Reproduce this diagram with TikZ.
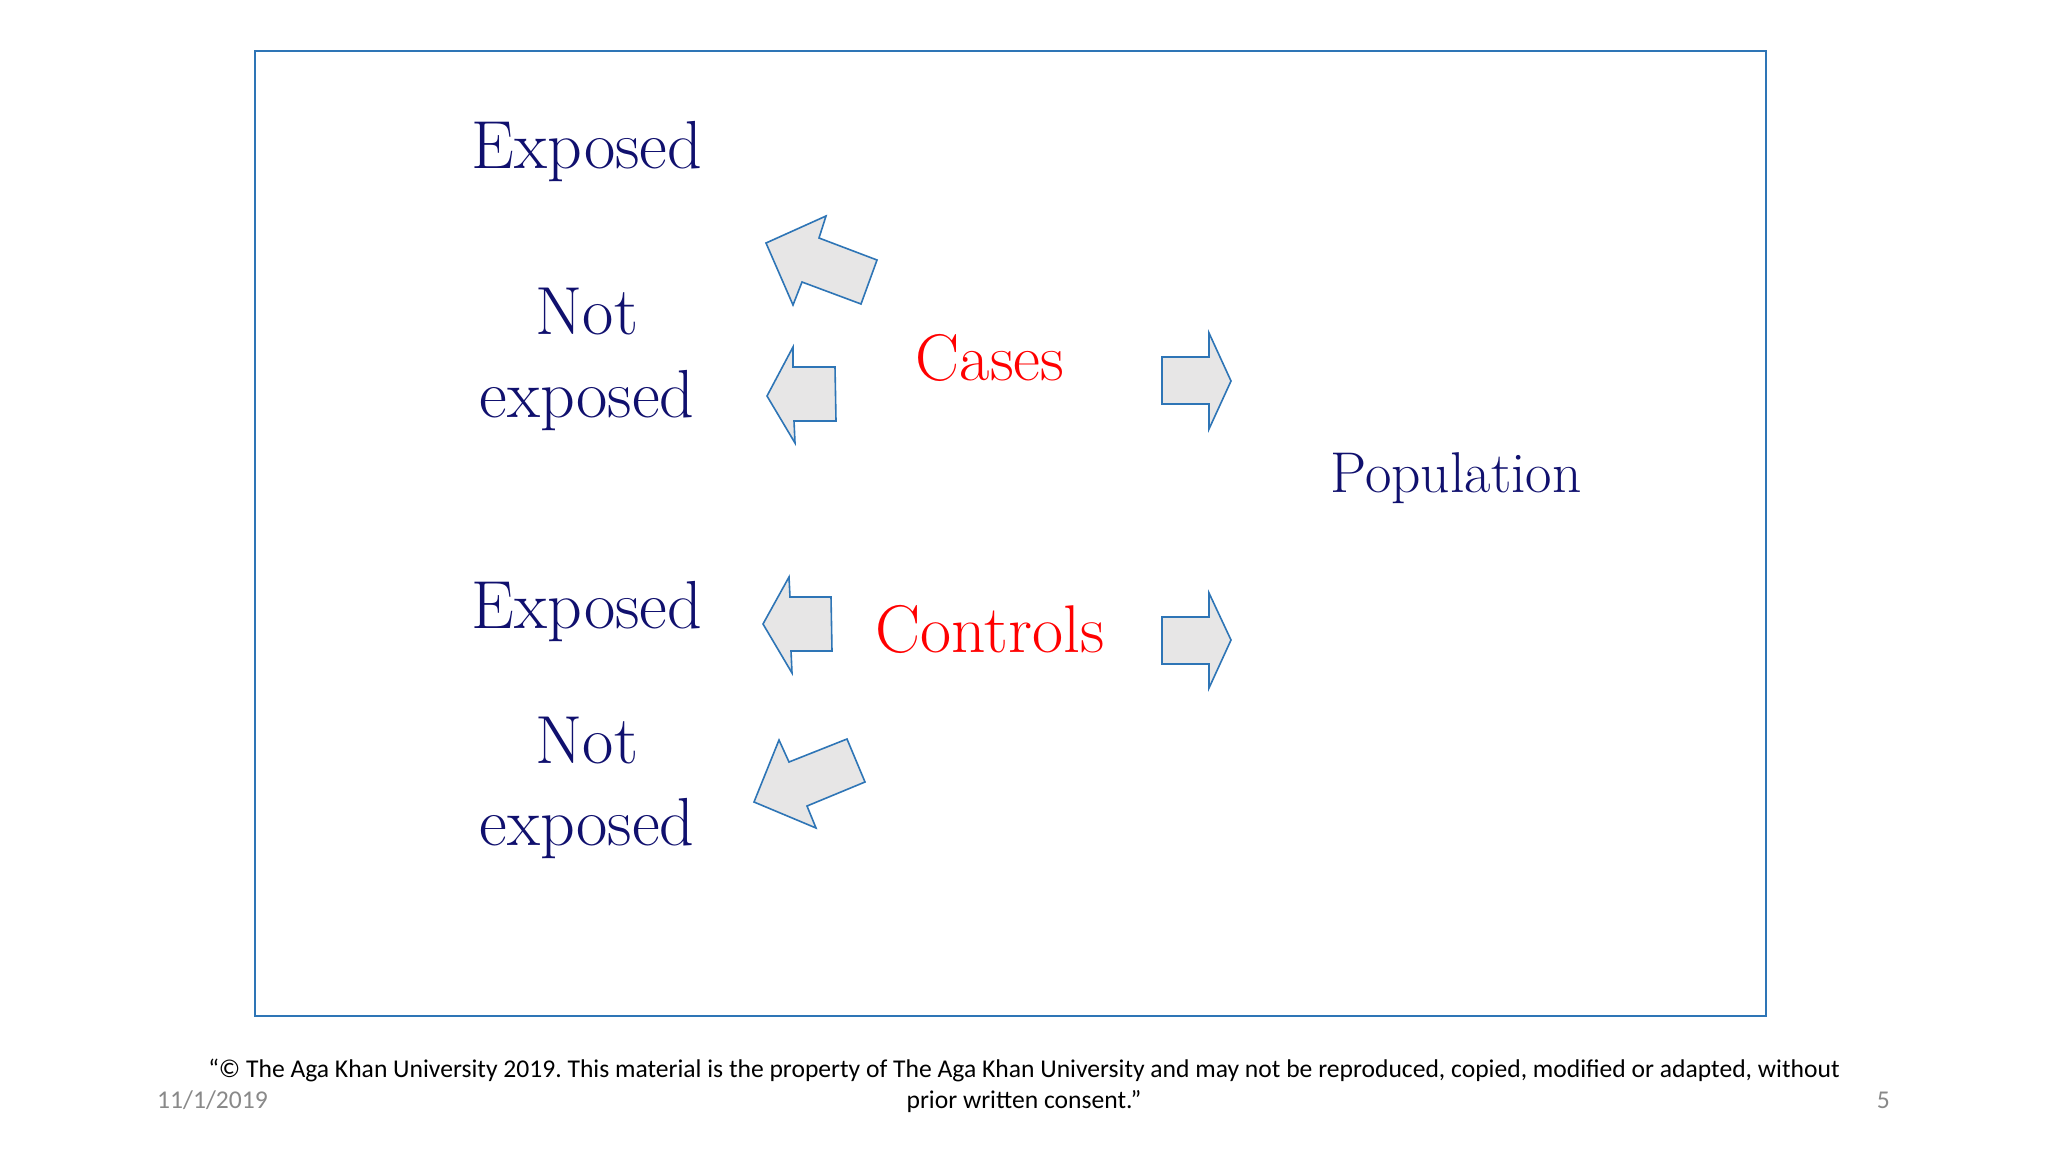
\documentclass[tikz,border=0pt]{standalone}
\usepackage{fontspec}
\newfontfamily\footfont{Carlito}
\definecolor{navy}{RGB}{16,16,110}
\definecolor{redtxt}{RGB}{255,0,0}
\definecolor{frameblue}{RGB}{46,117,182}
\definecolor{arrowfill}{RGB}{231,230,230}
\definecolor{footgray}{RGB}{137,137,137}
\frenchspacing
\tikzset{
  blockarrow/.style={draw=frameblue, line width=1.6pt, fill=arrowfill, line join=miter},
  bluetext/.style={text=navy, anchor=base, inner sep=0pt, font=\fontsize{68}{76}\selectfont},
  redlabel/.style={text=redtxt, anchor=base, inner sep=0pt, font=\fontsize{66}{74}\selectfont},
  foottext/.style={anchor=base, inner sep=0pt, font=\footfont\fontsize{25.6}{31}\selectfont},
}
\begin{document}
\begin{tikzpicture}[x=1pt,y=-1pt]
\useasboundingbox (0,0) rectangle (2048,1152);
\fill[white] (0,0) rectangle (2048,1152);
% frame
\draw[frameblue, line width=2pt] (255,51) rectangle (1766,1016);

% left labels
\node[bluetext] (exp1) at (587,168) {Exposed};
\node[bluetext] (not1) at (587,334) {Not};
\node[bluetext] (nexp1) at (587,417) {exposed};
\node[bluetext] (exp2) at (587,628) {Exposed};
\node[bluetext] (not2) at (587,763) {Not};
\node[bluetext] (nexp2) at (587,845) {exposed};

% centre labels
\node[redlabel] (cases) at (990,380) {Cases};
\node[redlabel, font=\fontsize{67.5}{74}\selectfont] (controls) at (990,652) {Controls};

% population
\node[bluetext, font=\fontsize{57.5}{64}\selectfont] (pop) at (1456,492) {Population};

% block arrows
\draw[blockarrow] (766,243) -- (826,216) -- (819,238) -- (877,260) -- (861,304) -- (802,282) -- (793,305) -- cycle;
\draw[blockarrow] (767,396) -- (793,347) -- (793,367) -- (835,367) -- (836,421) -- (794,421) -- (795,443) -- cycle;
\draw[blockarrow] (1162,357) -- (1209,357) -- (1209,333) -- (1231,381) -- (1209,429) -- (1209,404) -- (1162,404) -- cycle;
\draw[blockarrow] (763,624) -- (789,577) -- (790,597) -- (831,597) -- (832,651) -- (791,651) -- (792,673) -- cycle;
\draw[blockarrow] (1162,617) -- (1209,617) -- (1209,593) -- (1231,640) -- (1209,688) -- (1209,664) -- (1162,664) -- cycle;
\draw[blockarrow] (754,802) -- (779,740) -- (789,762) -- (847,739) -- (865,782) -- (807,806) -- (816,828) -- cycle;

% footer
\node[foottext, text=black] (copy1) at (1024,1077) {“© The Aga Khan University 2019. This material is the property of The Aga Khan University and may not be reproduced, copied, modified or adapted, without};
\node[foottext, text=black] (copy2) at (1024,1108) {prior written consent.”};
\node[foottext, text=footgray, anchor=base west] (date) at (157,1108) {11/1/2019};
\node[foottext, text=footgray, anchor=base east] (page) at (1890,1108) {5};
\end{tikzpicture}
\end{document}
